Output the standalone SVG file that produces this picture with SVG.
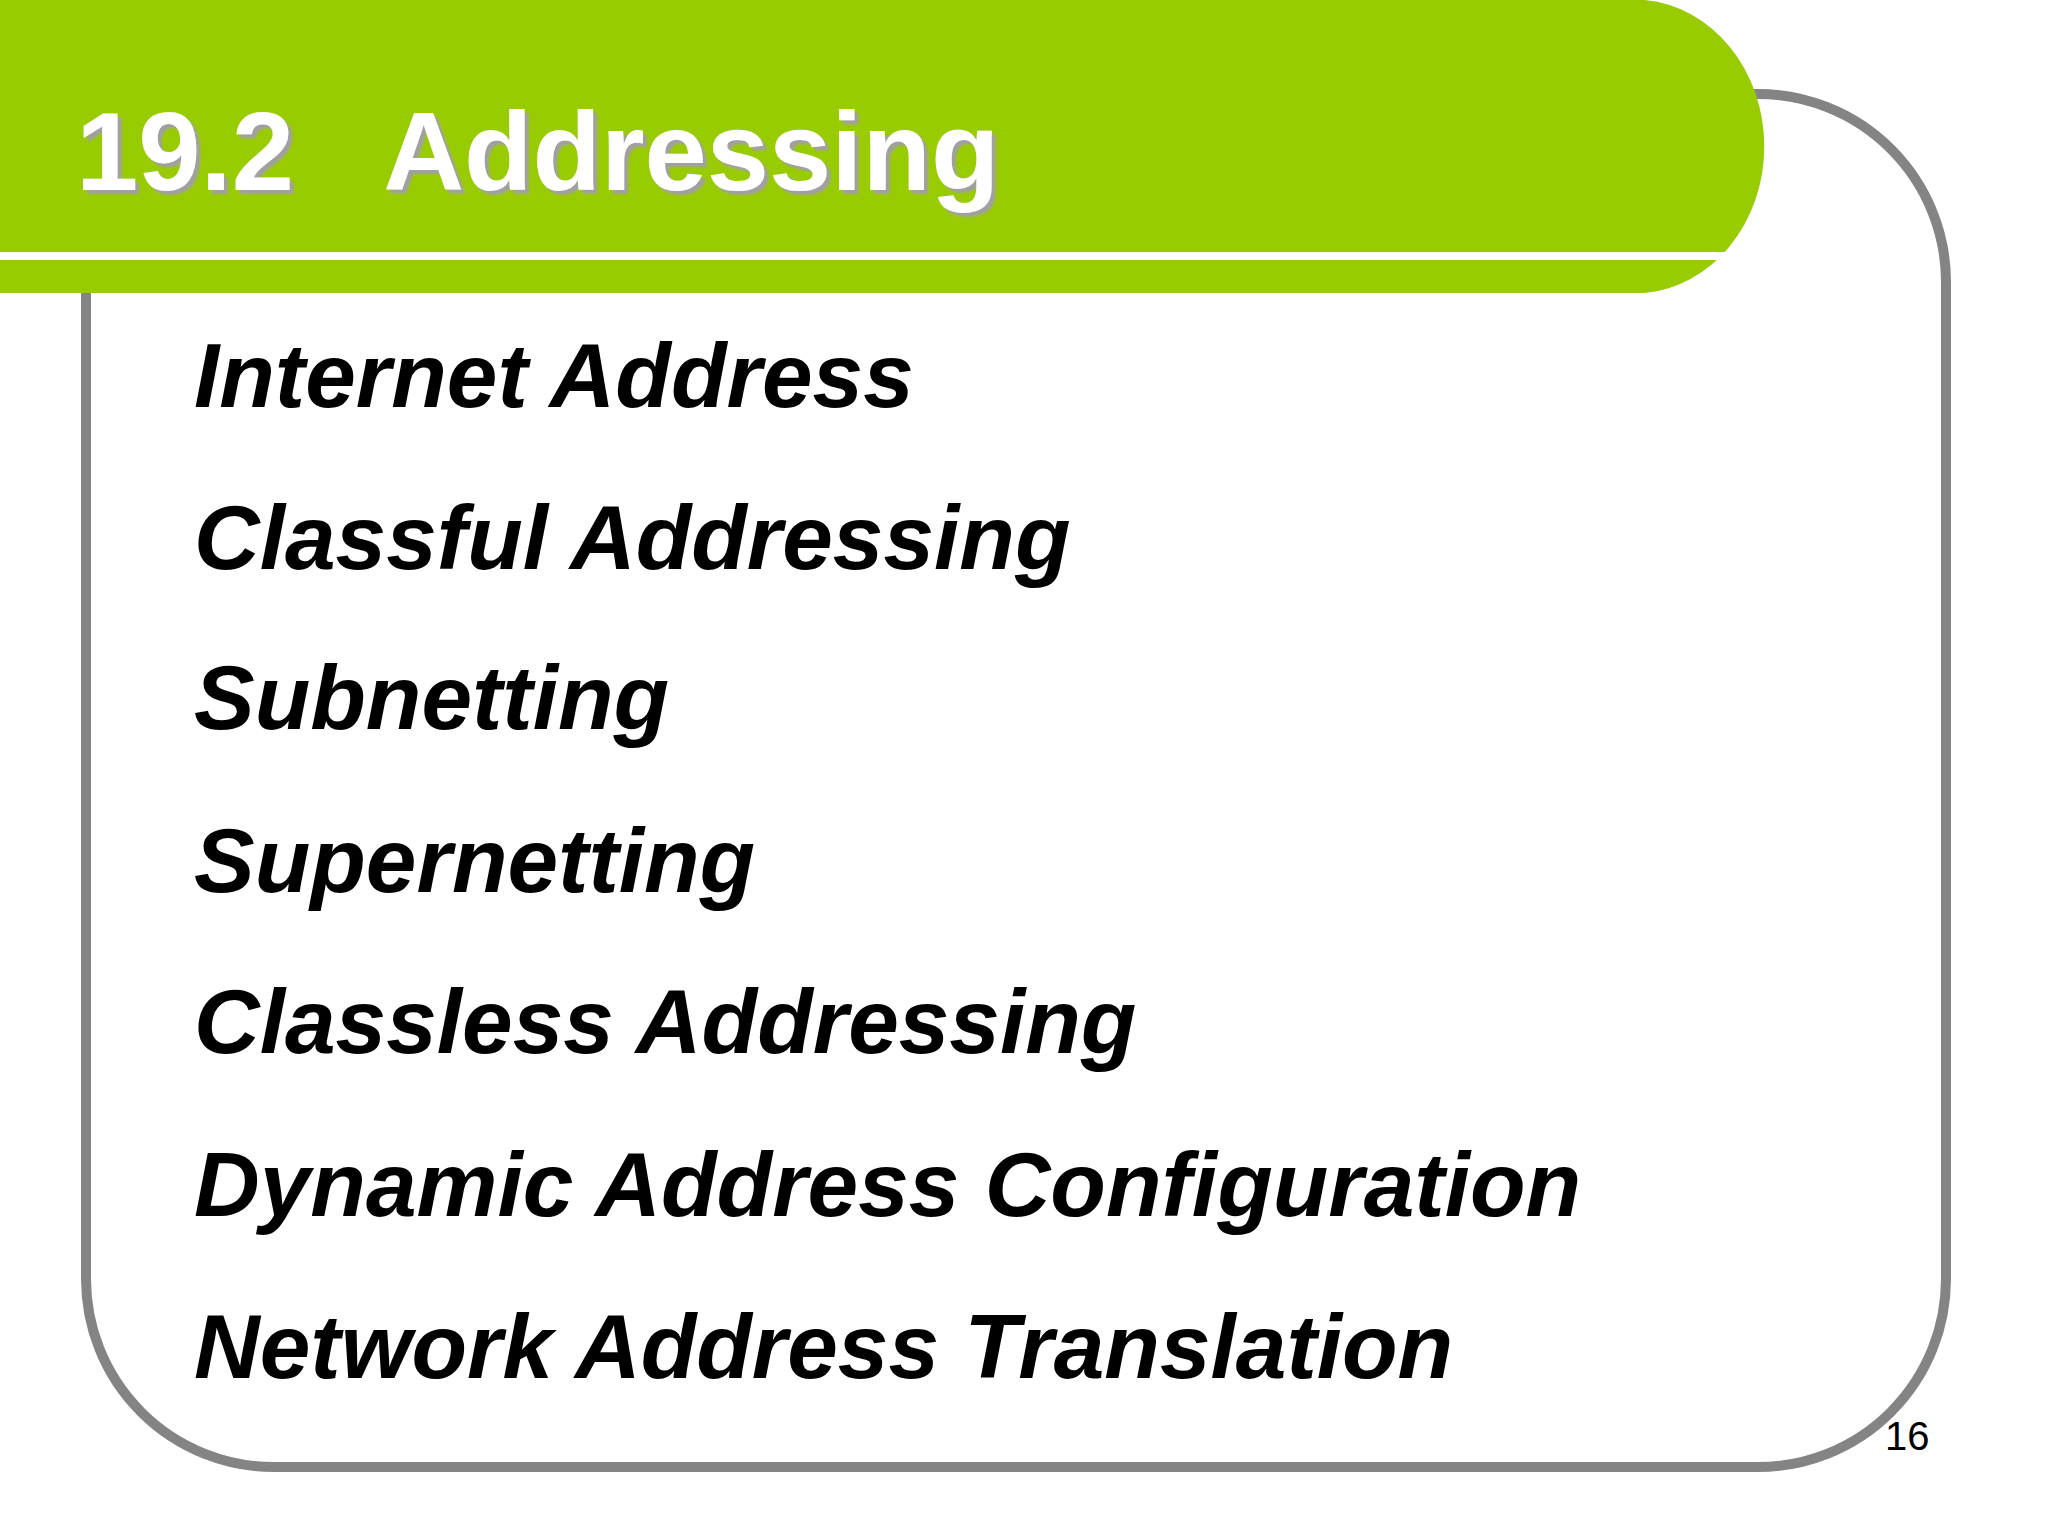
<svg xmlns="http://www.w3.org/2000/svg" width="2048" height="1536" viewBox="0 0 2048 1536">
<defs>
<style>
.item{font-family:"Liberation Sans",Arial,sans-serif;font-weight:bold;font-style:italic;font-size:91px;fill:#000}
.title{font-family:"Liberation Sans",Arial,sans-serif;font-weight:bold;font-size:112px}
</style>
<filter id="sh" x="-5%" y="-20%" width="110%" height="140%">
<feDropShadow dx="4" dy="4" stdDeviation="1" flood-color="#a0a0a0" flood-opacity="1"/>
</filter>
</defs>
<rect width="2048" height="1536" fill="#fff"/>
<g id="frame">
<rect x="86" y="94" width="1860" height="1373" rx="188" ry="188" fill="none" stroke="#848484" stroke-width="10"/>
</g>
<g id="header">
<path d="M0,0 H1645 A130,147 0 0 1 1645,293 H0 Z" fill="#99cc00"/>
<rect x="0" y="252" width="1780" height="8" fill="#fff"/>
<text class="title" x="76" y="190" fill="#fff" filter="url(#sh)" xml:space="preserve">19.2   Addressing</text>
</g>
<g id="items">
<text class="item" x="194" y="407">Internet Address</text>
<text class="item" x="194" y="569">Classful Addressing</text>
<text class="item" x="194" y="729">Subnetting</text>
<text class="item" x="194" y="892">Supernetting</text>
<text class="item" x="194" y="1053">Classless Addressing</text>
<text class="item" x="194" y="1216">Dynamic Address Configuration</text>
<text class="item" x="194" y="1378">Network Address Translation</text>
</g>
<text x="1885" y="1450" font-family="Liberation Sans,Arial,sans-serif" font-size="40" fill="#000">16</text>
</svg>
